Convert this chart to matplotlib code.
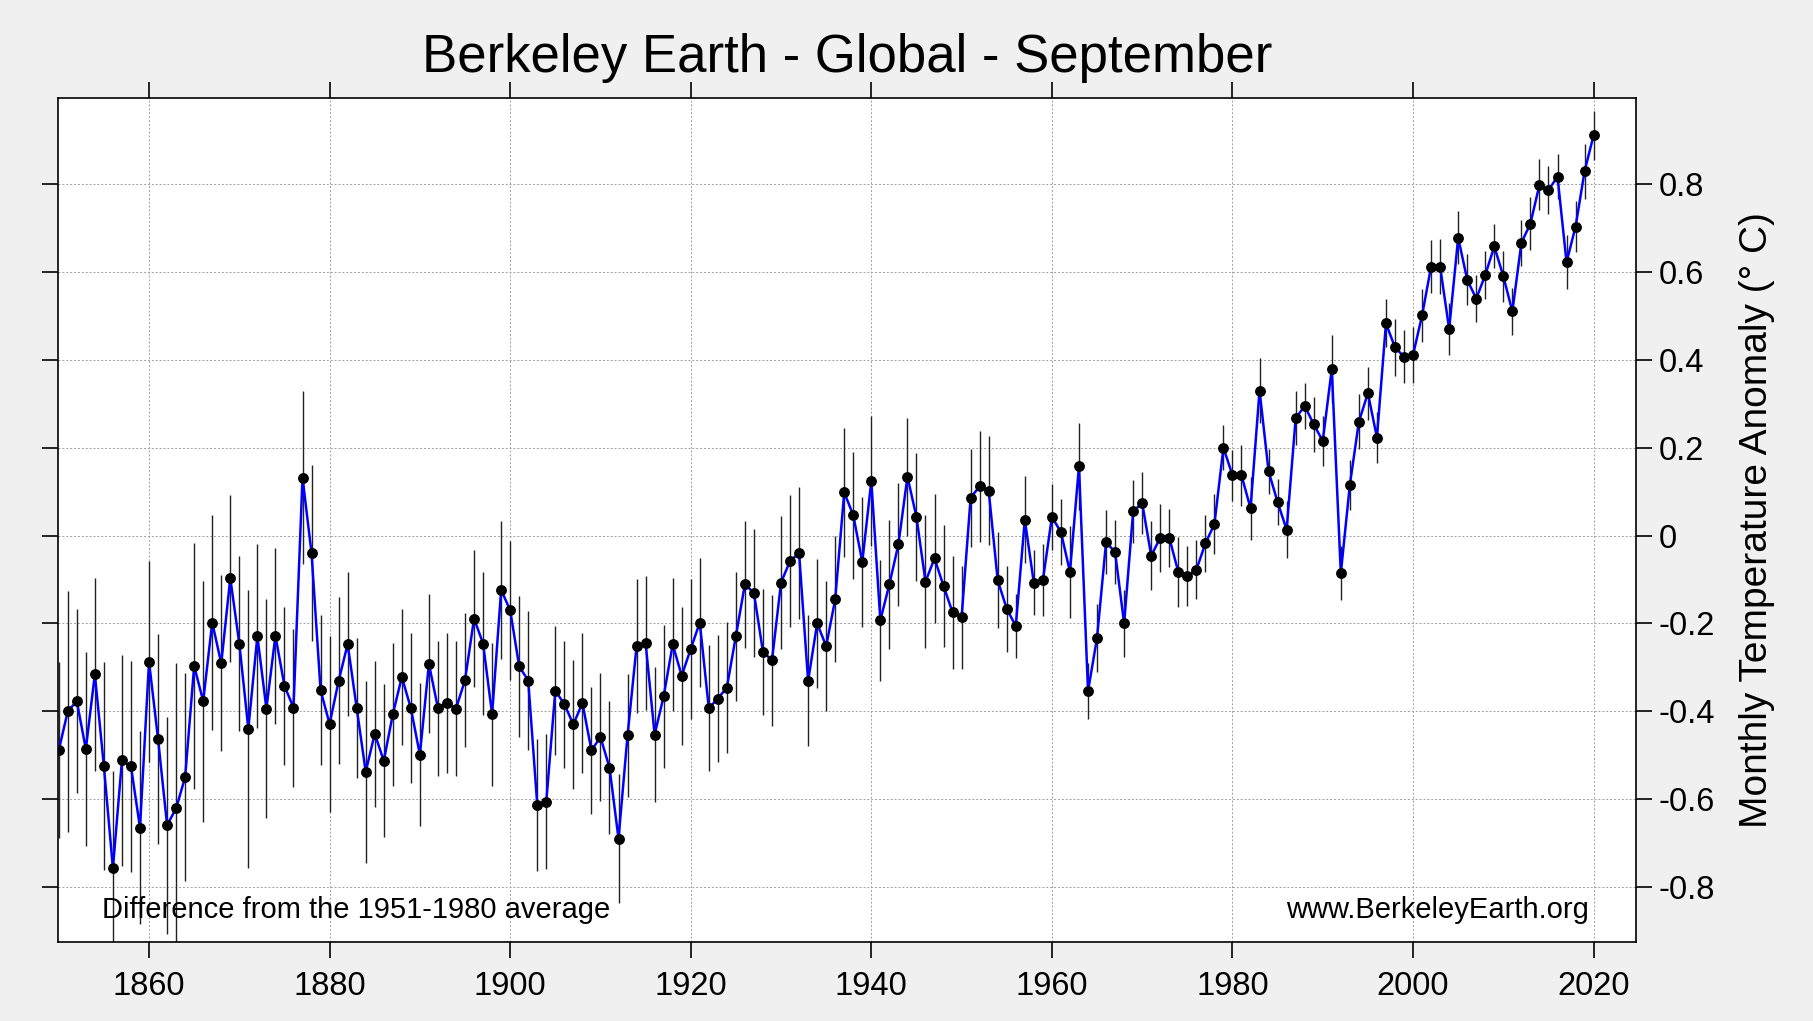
import numpy as np
import matplotlib
matplotlib.use("Agg")
import matplotlib.pyplot as plt

plt.rcParams['font.family'] = ['Liberation Sans', 'DejaVu Sans']
plt.rcParams['axes.unicode_minus'] = False

# September anomaly (deg C) vs 1951-1980, one value per year from 1850
years = np.arange(1850, 2021)
anomaly = [
    -0.489, -0.400, -0.377, -0.486, -0.316, -0.525, -0.757, -0.512, -0.525, -0.665,
    -0.287, -0.463, -0.659, -0.621, -0.550, -0.297, -0.377, -0.198, -0.291, -0.097,
    -0.246, -0.440, -0.229, -0.394, -0.228, -0.342, -0.392, 0.132, -0.040, -0.352,
    -0.429, -0.331, -0.247, -0.393, -0.538, -0.451, -0.513, -0.407, -0.322, -0.393,
    -0.499, -0.292, -0.393, -0.381, -0.394, -0.329, -0.189, -0.246, -0.407, -0.124,
    -0.170, -0.298, -0.330, -0.613, -0.606, -0.353, -0.384, -0.430, -0.381, -0.489,
    -0.459, -0.528, -0.690, -0.455, -0.252, -0.245, -0.453, -0.366, -0.248, -0.319,
    -0.258, -0.198, -0.393, -0.371, -0.346, -0.229, -0.111, -0.131, -0.265, -0.284,
    -0.107, -0.058, -0.040, -0.331, -0.200, -0.252, -0.145, 0.098, 0.046, -0.060,
    0.124, -0.193, -0.111, -0.020, 0.134, 0.042, -0.105, -0.052, -0.115, -0.175,
    -0.186, 0.086, 0.112, 0.102, -0.102, -0.167, -0.206, 0.036, -0.108, -0.102,
    0.042, 0.008, -0.083, 0.158, -0.354, -0.233, -0.015, -0.038, -0.200, 0.055,
    0.074, -0.046, -0.005, -0.005, -0.083, -0.093, -0.078, -0.018, 0.026, 0.200,
    0.137, 0.137, 0.062, 0.330, 0.146, 0.076, 0.013, 0.267, 0.295, 0.253,
    0.215, 0.379, -0.086, 0.115, 0.259, 0.324, 0.223, 0.483, 0.428, 0.407,
    0.411, 0.501, 0.612, 0.612, 0.470, 0.678, 0.582, 0.539, 0.593, 0.658,
    0.590, 0.510, 0.666, 0.710, 0.798, 0.786, 0.817, 0.622, 0.703, 0.829,
    0.911,
]
# 95% uncertainty (half width of the bars)
uncertainty = [
    0.200, 0.274, 0.210, 0.220, 0.220, 0.236, 0.220, 0.240, 0.240, 0.220,
    0.228, 0.238, 0.247, 0.330, 0.237, 0.280, 0.274, 0.245, 0.200, 0.190,
    0.200, 0.316, 0.210, 0.250, 0.200, 0.180, 0.180, 0.197, 0.200, 0.170,
    0.200, 0.190, 0.164, 0.159, 0.207, 0.166, 0.174, 0.163, 0.155, 0.171,
    0.163, 0.158, 0.154, 0.160, 0.153, 0.152, 0.156, 0.163, 0.163, 0.156,
    0.158, 0.160, 0.159, 0.150, 0.154, 0.146, 0.144, 0.146, 0.160, 0.144,
    0.145, 0.151, 0.147, 0.140, 0.152, 0.153, 0.153, 0.162, 0.151, 0.157,
    0.160, 0.147, 0.144, 0.145, 0.150, 0.147, 0.145, 0.145, 0.144, 0.149,
    0.151, 0.150, 0.150, 0.149, 0.147, 0.148, 0.144, 0.147, 0.144, 0.148,
    0.147, 0.138, 0.147, 0.140, 0.134, 0.145, 0.151, 0.146, 0.139, 0.128,
    0.117, 0.112, 0.126, 0.124, 0.109, 0.098, 0.073, 0.099, 0.074, 0.082,
    0.075, 0.076, 0.104, 0.099, 0.064, 0.077, 0.073, 0.073, 0.076, 0.072,
    0.071, 0.078, 0.077, 0.066, 0.079, 0.068, 0.067, 0.065, 0.068, 0.052,
    0.058, 0.069, 0.072, 0.074, 0.052, 0.053, 0.065, 0.061, 0.052, 0.062,
    0.056, 0.078, 0.061, 0.057, 0.063, 0.060, 0.059, 0.055, 0.064, 0.060,
    0.063, 0.060, 0.061, 0.063, 0.059, 0.061, 0.058, 0.053, 0.054, 0.050,
    0.058, 0.053, 0.052, 0.060, 0.058, 0.054, 0.052, 0.062, 0.058, 0.063,
    0.056,
]

x_ticks = [1860, 1880, 1900, 1920, 1940, 1960, 1980, 2000, 2020]
y_ticks = [-0.8, -0.6, -0.4, -0.2, 0.0, 0.2, 0.4, 0.6, 0.8]
y_tick_labels = ['-0.8', '-0.6', '-0.4', '-0.2', '0', '0.2', '0.4', '0.6', '0.8']

title = 'Berkeley Earth - Global - September'
y_label = 'Monthly Temperature Anomaly (\u00b0 C)'
note_left = 'Difference from the 1951-1980 average'
note_right = 'www.BerkeleyEarth.org'

fig = plt.figure(figsize=(18.13, 10.21), dpi=100, facecolor='#f0f0f0')
ax = fig.add_axes([0.0319, 0.077, 0.8705, 0.8267])
ax.set_facecolor('white')

# error bars first, then the line, dots on top
ax.vlines(years, np.array(anomaly) - np.array(uncertainty),
          np.array(anomaly) + np.array(uncertainty),
          color='#222222', linewidth=1.0, zorder=2)
ax.plot(years, anomaly, color='#0000ff', linewidth=1.8, zorder=3)
ax.plot(years, anomaly, 'o', color='black', markersize=6.8, zorder=4)

ax.set_xlim(1849.9, 2024.7)
ax.set_ylim(-0.926, 0.995)
ax.set_xticks(x_ticks)
ax.set_yticks(y_ticks)
ax.set_yticklabels(y_tick_labels)
ax.grid(color='#a0a0a0', linestyle=(0, (2, 2)), linewidth=0.7, zorder=0)

ax.tick_params(axis='both', direction='out', length=11.5, width=1.2,
               labelsize=23.5, top=True, right=True, left=True, bottom=True,
               labelleft=False, labelright=True)
ax.tick_params(axis='y', pad=5)
ax.tick_params(axis='x', pad=9)
for s in ax.spines.values():
    s.set_linewidth(1.2)

ax.yaxis.set_label_position('right')
ax.set_ylabel(y_label, fontsize=28, labelpad=17)
ax.set_title(title, fontsize=38, pad=19)

ax.text(0.028, 0.022, note_left, transform=ax.transAxes, fontsize=21,
        ha='left', va='bottom')
ax.text(0.97, 0.022, note_right, transform=ax.transAxes, fontsize=21,
        ha='right', va='bottom')

fig.savefig('out.png', dpi=100, facecolor=fig.get_facecolor())
